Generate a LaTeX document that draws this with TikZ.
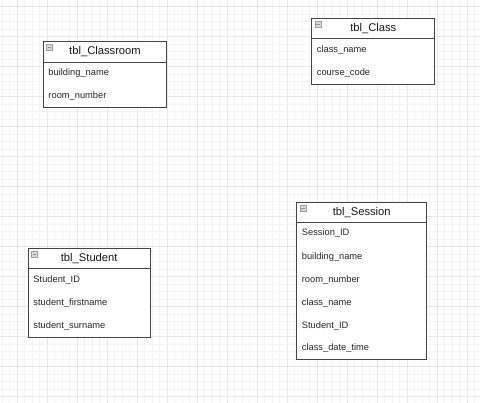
\documentclass[tikz,border=0pt]{standalone}
\usepackage{fontspec}
\setmainfont{Liberation Sans}
\definecolor{tblline}{HTML}{444444}
\definecolor{gridminor}{HTML}{F4F4F4}
\definecolor{gridmajor}{HTML}{E8E8E8}
\tikzset{
  tblhead/.style={draw=tblline,fill=white,line width=1pt,minimum height=20.5pt,inner sep=0pt,
    text=black!90,font=\fontsize{11.2}{13}\selectfont},
  tblbody/.style={draw=tblline,fill=white,line width=1pt,inner sep=0pt},
  field/.style={anchor=west,inner xsep=5pt,inner ysep=0pt,text=black!85,
    font=\fontsize{9.3}{11}\selectfont},
  tblicon/.style={draw=gray!75,fill=gray!30,line width=0.5pt,minimum size=6pt,inner sep=0pt,
    path picture={\draw[gray!85,line width=0.6pt]
      ([xshift=1.3pt]path picture bounding box.west) -- ([xshift=-1.3pt]path picture bounding box.east);}}
}
\begin{document}
\begin{tikzpicture}[x=1pt,y=-1pt]
    \useasboundingbox[fill=white] (0,0) rectangle (480,403);
    \clip (0,0) rectangle (480,403);

    % background grid
    \foreach \gx in {2,9.5,...,480} \draw[gridminor,line width=0.6pt] (\gx,0) -- (\gx,403);
    \foreach \gy in {6.7,14.2,...,403} \draw[gridminor,line width=0.6pt] (0,\gy) -- (480,\gy);
    \foreach \gx in {17,47,...,480} \draw[gridmajor,line width=0.6pt] (\gx,0) -- (\gx,403);
    \foreach \gy in {6.7,36.7,...,403} \draw[gridmajor,line width=0.6pt] (0,\gy) -- (480,\gy);

    % tbl_Classroom
    \node[tblbody,minimum width=123.4pt,minimum height=45.4pt] (classroom body) at (105,85){};
    \node[tblhead,minimum width=123.4pt] (classroom) at (105,52){tbl\_Classroom};
    \node[tblicon] (classroom icon) at (49.5,47.5){};
    \node[field] (classroom building) at (43.3,73){building\_name};
    \node[field] (classroom room) at (43.3,95.7){room\_number};

    % tbl_Class
    \node[tblbody,minimum width=123.3pt,minimum height=45.7pt] (class body) at (373.3,61.2){};
    \node[tblhead,minimum width=123.3pt] (class) at (373.3,28.3){tbl\_Class};
    \node[tblicon] (class icon) at (317.8,24){};
    \node[field] (class name) at (311.7,50){class\_name};
    \node[field] (class course) at (311.7,73){course\_code};

    % tbl_Student
    \node[tblbody,minimum width=121.7pt,minimum height=69pt] (student body) at (89.2,302.8){};
    \node[tblhead,minimum width=121.7pt] (student) at (89.2,258.3){tbl\_Student};
    \node[tblicon] (student icon) at (34.5,254){};
    \node[field] (student id) at (28.3,279.7){Student\_ID};
    \node[field] (student first) at (28.3,302.7){student\_firstname};
    \node[field] (student sur) at (28.3,325.7){student\_surname};

    % tbl_Session
    \node[tblbody,minimum width=130pt,minimum height=137.3pt] (session body) at (361.7,291.3){};
    \node[tblhead,minimum width=130pt] (session) at (361.7,212.5){tbl\_Session};
    \node[tblicon] (session icon) at (302.8,208){};
    \node[field] (session id) at (296.7,233.4){Session\_ID};
    \node[field] (session building) at (296.7,256.7){building\_name};
    \node[field] (session room) at (296.7,279.7){room\_number};
    \node[field] (session class) at (296.7,303){class\_name};
    \node[field] (session student) at (296.7,325.7){Student\_ID};
    \node[field] (session time) at (296.7,348.4){class\_date\_time};
\end{tikzpicture}
\end{document}
